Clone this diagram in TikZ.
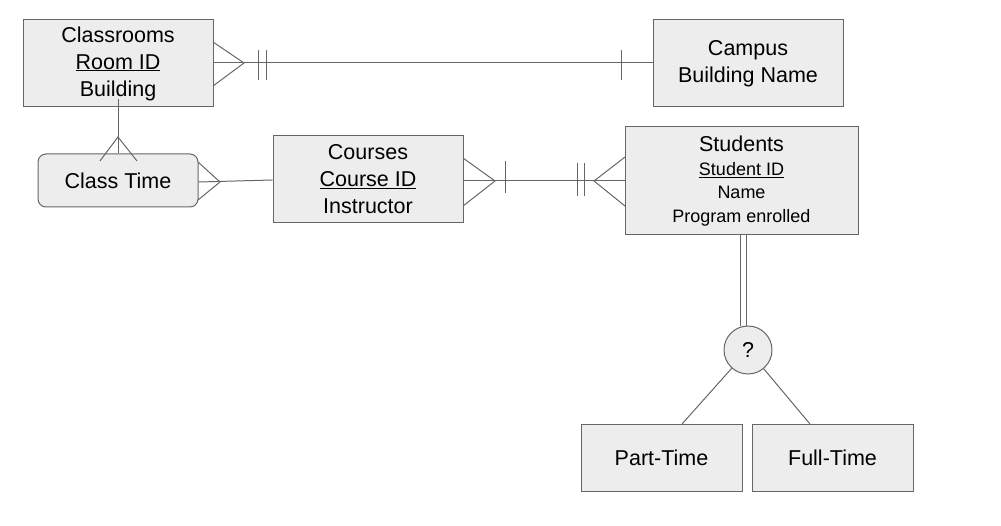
\documentclass[tikz,border=0pt]{standalone}
\usepackage{fontspec}
\setmainfont{Liberation Sans}
\begin{document}
\begin{tikzpicture}[x=1pt,y=-1pt,
  ent/.style={draw=black!60,fill=black!7,line width=1pt,inner sep=0pt},
  ln/.style={draw=black!60,line width=1pt},
  big/.style={font=\fontsize{21.5}{27}\selectfont,align=center},
  sm/.style={align=center}]
\useasboundingbox (0,0) rectangle (1001,526);
\node[ent,minimum width=190,minimum height=87,big] (cl) at (118,63.5) {Classrooms\\\underline{Room ID}\\Building};
\node[ent,minimum width=190,minimum height=87,big] (ca) at (748,63.5) {Campus\\Building Name};
\node[ent,rounded corners=8pt,minimum width=160,minimum height=53,big] (ct) at (118,180.5) {Class Time};
\node[ent,minimum width=190,minimum height=87,big] (co) at (368,179.5) {Courses\\\underline{Course ID}\\Instructor};
\node[ent,minimum width=233,minimum height=108,sm,font=\fontsize{18}{23.5}\selectfont] (st) at (741.5,181) {{\fontsize{21.5}{23.5}\selectfont Students}\\\underline{Student ID}\\Name\\Program enrolled};
\node[ent,circle,minimum size=48,big] (q) at (748,350) {?};
\node[ent,minimum width=161,minimum height=67,big] (pt) at (661.5,457.5) {Part-Time};
\node[ent,minimum width=161,minimum height=67,big] (ft) at (832.5,457.5) {Full-Time};
% Classrooms - Campus
\draw[ln] (cl.east |- 0,63) -- (ca.west |- 0,63);
\draw[ln] (213,42) -- (244,63) -- (213,86);
\draw[ln] (258,50) -- (258,80) (266,50) -- (266,80) (621,50) -- (621,80);
% Classrooms - Class Time
\draw[ln] (cl.south) ++(0,-8) -- (ct.north);
\draw[ln] (100,161) -- (118,137) -- (137,161);
% Class Time - Courses
\draw[ln] (ct.east |- 0,182) -- (co.west |- 0,180);
\draw[ln] (198,162) -- (220,182) -- (198,200);
% Courses - Students
\draw[ln] (co.east |- 0,181) -- (st.west |- 0,181);
\draw[ln] (463,158) -- (495,181) -- (463,206);
\draw[ln] (625,157) -- (594,181) -- (625,206);
\draw[ln] (505,161) -- (505,193) (577,163) -- (577,196) (584,163) -- (584,196);
% Students - ?
\draw[ln] (740,235) -- (740,326.5) (746,235) -- (746,326);
\draw[ln] (q) -- (682,424);
\draw[ln] (q) -- (810,424);
\end{tikzpicture}
\end{document}
